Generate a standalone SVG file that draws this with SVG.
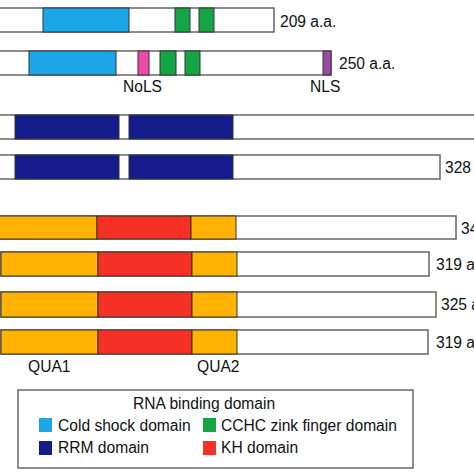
<svg xmlns="http://www.w3.org/2000/svg" width="474" height="474" viewBox="0 0 474 474">
<style>
.bar{fill:#fff;stroke:#666;stroke-width:1.5}
.dom{stroke:#333;stroke-width:1}
.cs{fill:#1ba6ea}
.zf{fill:#14a544}
.rrm{fill:#141c8c}
.kh{fill:#f53126}
.qua{fill:#ffb202}
.nols{fill:#ec4ba8}
.nls{fill:#9a4ca6}
text{font-family:"Liberation Sans",Arial,sans-serif;font-size:15.6px;fill:#111}
</style>
<rect width="474" height="474" fill="#fff"/>
<g id="p1">
<rect class="bar" x="-5" y="8" width="279" height="24"/>
<rect class="dom cs" x="43" y="8" width="86" height="24"/>
<rect class="dom zf" x="175" y="8" width="15" height="24"/>
<rect class="dom zf" x="199" y="8" width="15" height="24"/>
<text x="280" y="27">209 a.a.</text>
</g>
<g id="p2">
<rect class="bar" x="-5" y="51" width="336" height="24"/>
<rect class="dom cs" x="29" y="51" width="87" height="24"/>
<rect class="dom nols" x="138" y="51" width="11" height="24"/>
<rect class="dom zf" x="160" y="51" width="16" height="24"/>
<rect class="dom zf" x="185" y="51" width="15" height="24"/>
<rect class="dom nls" x="323" y="51" width="8" height="24"/>
<text x="339" y="69">250 a.a.</text>
<text x="123" y="92">NoLS</text>
<text x="310" y="92">NLS</text>
</g>
<g id="p3">
<rect class="bar" x="-5" y="115" width="490" height="24"/>
<rect class="dom rrm" x="15" y="115" width="104" height="24"/>
<rect class="dom rrm" x="129" y="115" width="104" height="24"/>
</g>
<g id="p4">
<rect class="bar" x="-5" y="155" width="445" height="24"/>
<rect class="dom rrm" x="15" y="155" width="104" height="24"/>
<rect class="dom rrm" x="129" y="155" width="104" height="24"/>
<text x="445" y="173">328</text>
</g>
<g id="p5">
<rect class="bar" x="-5" y="216" width="461" height="23"/>
<rect class="dom qua" x="-5" y="216" width="102" height="23"/>
<rect class="dom kh" x="97" y="216" width="94" height="23"/>
<rect class="dom qua" x="191" y="216" width="45" height="23"/>
<text x="461" y="234">34</text>
</g>
<g id="p6">
<rect class="bar" x="1" y="252" width="428" height="24"/>
<rect class="dom qua" x="1" y="252" width="97" height="24"/>
<rect class="dom kh" x="98" y="252" width="94" height="24"/>
<rect class="dom qua" x="192" y="252" width="45" height="24"/>
<text x="436" y="270">319 a</text>
</g>
<g id="p7">
<rect class="bar" x="1" y="292" width="435" height="25"/>
<rect class="dom qua" x="1" y="292" width="97" height="25"/>
<rect class="dom kh" x="98" y="292" width="94" height="25"/>
<rect class="dom qua" x="192" y="292" width="45" height="25"/>
<text x="441" y="310">325 a</text>
</g>
<g id="p8">
<rect class="bar" x="1" y="330" width="427" height="24"/>
<rect class="dom qua" x="1" y="330" width="97" height="24"/>
<rect class="dom kh" x="98" y="330" width="94" height="24"/>
<rect class="dom qua" x="192" y="330" width="45" height="24"/>
<text x="436" y="348">319 a</text>
<text x="28" y="372">QUA1</text>
<text x="197" y="372">QUA2</text>
</g>
<g id="legend">
<rect x="18" y="390" width="395" height="78" fill="#fff" stroke="#444" stroke-width="1.2"/>
<text x="133" y="409">RNA binding domain</text>
<rect class="cs" x="39" y="418" width="13" height="14"/>
<text x="58" y="431">Cold shock domain</text>
<rect class="zf" x="203" y="418" width="13" height="14"/>
<text x="221" y="431">CCHC zink finger domain</text>
<rect class="rrm" x="39" y="441" width="13" height="14"/>
<text x="58" y="453">RRM domain</text>
<rect class="kh" x="203" y="441" width="13" height="14"/>
<text x="221" y="453">KH domain</text>
</g>
</svg>
